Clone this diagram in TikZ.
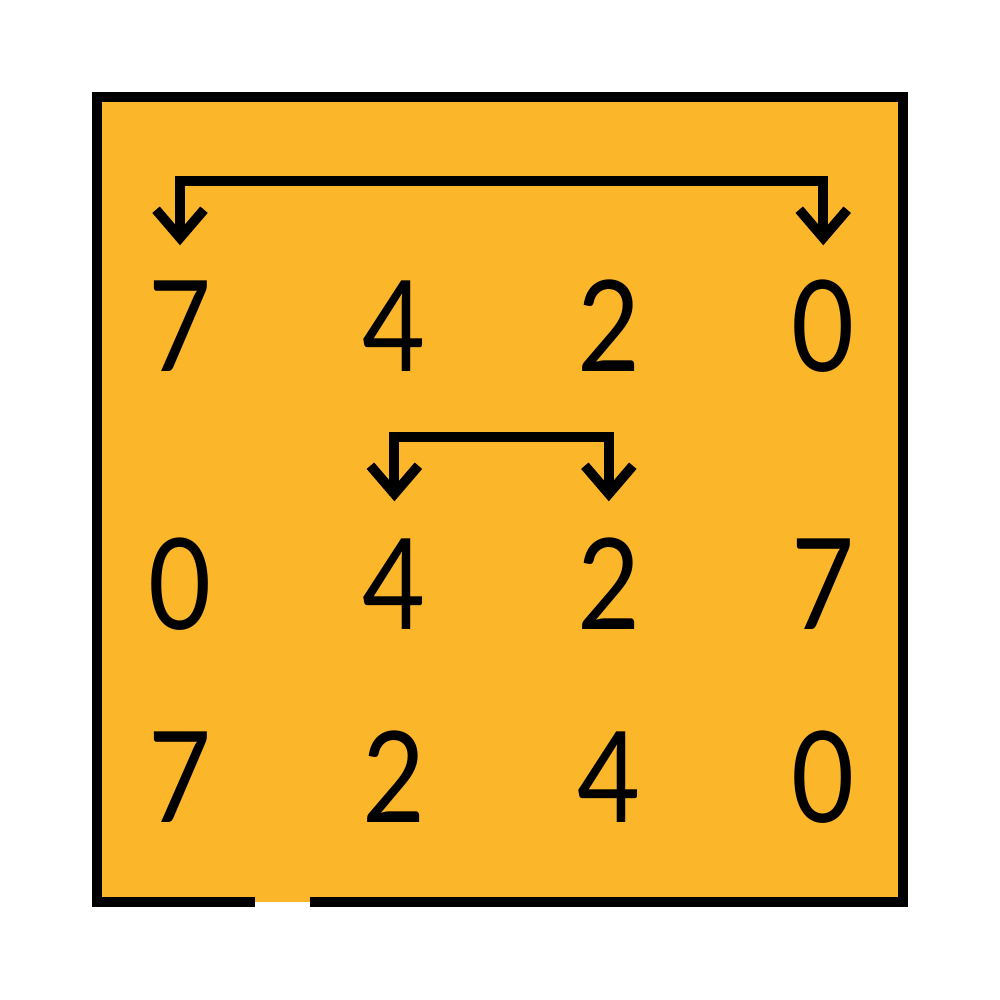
\documentclass[tikz,border=0pt]{standalone}
\usepackage{fontspec}
\usepackage{tikz}
\usetikzlibrary{positioning, arrows.meta}
\newfontfamily\digitfont{Lato}[FakeStretch=0.86]
\definecolor{swaporange}{RGB}{252,182,42}
\tikzstyle{dig}=[%
      rectangle, draw=none, inner sep=0pt, text width=1cm, align=center,
      text height=0.9cm, text depth=0pt, font=\digitfont\fontsize{36}{40}\selectfont
]
\tikzstyle{frame}=[%
      draw=black, line width=2.7pt, line join=miter
]
\tikzstyle{swaparrow}=[%
      draw=black, line width=2.8pt, line join=miter,
      {Straight Barb[length=2.8mm,width=4.8mm]}-{Straight Barb[length=2.8mm,width=4.8mm]}
]
\begin{document}
\begin{tikzpicture}[node distance=1.13cm]
    \fill[white] (0,0) rectangle (10,10);
    \fill[swaporange] (0.97,0.98) rectangle (9.03,9.03);
    \draw[frame] (2.55,0.98) -| (0.97,9.03) -| (9.03,0.98) -- (3.10,0.98);

    \node[dig] (a1) at (1.80,6.73) {7};
    \node[dig] (a2) [right = of a1] {4};
    \node[dig] (a3) [right = of a2] {2};
    \node[dig] (a4) [right = of a3] {0};

    \node[dig] (b1) at (1.80,4.15) {0};
    \node[dig] (b2) [right = of b1] {4};
    \node[dig] (b3) [right = of b2] {2};
    \node[dig] (b4) [right = of b3] {7};

    \node[dig] (c1) at (1.80,2.22) {7};
    \node[dig] (c2) [right = of c1] {2};
    \node[dig] (c3) [right = of c2] {4};
    \node[dig] (c4) [right = of c3] {0};

    \draw[swaparrow] ([yshift=3.6mm]a1.north) -- ++(0,6.4mm) -| ([yshift=3.6mm]a4.north);
    \draw[swaparrow] ([yshift=3.8mm]b2.north) -- ++(0,6.4mm) -| ([yshift=3.8mm]b3.north);
\end{tikzpicture}
\end{document}
